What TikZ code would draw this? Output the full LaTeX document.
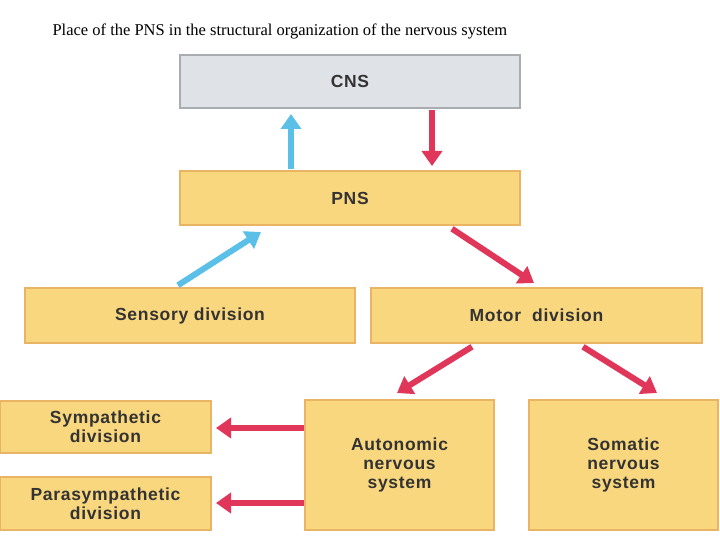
\documentclass[tikz,border=0pt]{standalone}
\usepackage{fontspec}
\setmainfont{Liberation Serif}
\newfontfamily\boxfont[LetterSpace=4]{Liberation Sans}
\usetikzlibrary{arrows.meta}
\definecolor{ybox}{HTML}{F9D77E}
\definecolor{yline}{HTML}{E9B564}
\definecolor{gbox}{HTML}{DFE2E6}
\definecolor{gline}{HTML}{A9ADB2}
\definecolor{bluear}{HTML}{5BC0E8}
\definecolor{redar}{HTML}{E0365A}
\definecolor{txt}{HTML}{333333}
\begin{document}
\begin{tikzpicture}[x=1pt,y=-1pt,
  ybx/.style={draw=yline,fill=ybox,line width=1.5pt,inner sep=0pt,align=center,
     font=\boxfont\bfseries\fontsize{17.5}{19}\selectfont,text=txt},
  gbx/.style={ybx,draw=gline,fill=gbox},
  arr/.style={line width=6pt,-{Triangle[width=20pt,length=15pt]}},
  redarr/.style={arr,redar},
  bluearr/.style={arr,bluear}]
\useasboundingbox[fill=white] (0,0) rectangle (720,540);
\node[anchor=west,font=\fontsize{16.5}{18}\selectfont] (title) at (49,31) {Place of the PNS in the structural organization of the nervous system};
\node[gbx,minimum width=340pt,minimum height=53pt] (cns) at (350,81.5) {CNS};
\node[ybx,minimum width=340pt,minimum height=54pt] (pns) at (350,198) {PNS};
\node[ybx,minimum width=330pt,minimum height=55pt] (sens) at (190,315.5) {Sensory division};
\node[ybx,minimum width=331pt,minimum height=55pt] (mot) at (536.5,315.5) {Motor\ \ division};
\node[ybx,minimum width=211pt,minimum height=52pt] (sym) at (105.5,427) {Sympathetic\\division};
\node[ybx,minimum width=211pt,minimum height=53pt] (para) at (105.5,503.5) {Parasympathetic\\division};
\node[ybx,minimum width=189pt,minimum height=130pt] (aut) at (399.5,465) {Autonomic\\nervous\\system};
\node[ybx,minimum width=189pt,minimum height=130pt] (som) at (623.5,465) {Somatic\\nervous\\system};
\draw[bluearr] (pns.north -| 291,0) ++(0,-1) -- (291,114);
\draw[redarr] (cns.south -| 432,0) ++(0,1) -- (432,166);
\draw[bluearr] (sens.north -| 178,0) ++(0,-2) -- (261,232);
\draw[redarr] (pns.south -| 452,0) ++(0,3) -- (534,283);
\draw[redarr] (mot.south -| 472,0) ++(0,3) -- (397,393);
\draw[redarr] (mot.south -| 583,0) ++(0,3) -- (657,393);
\draw[redarr] (aut.west |- 0,428) -- (216,428);
\draw[redarr] (aut.west |- 0,503) -- (216,503);
\end{tikzpicture}
\end{document}
